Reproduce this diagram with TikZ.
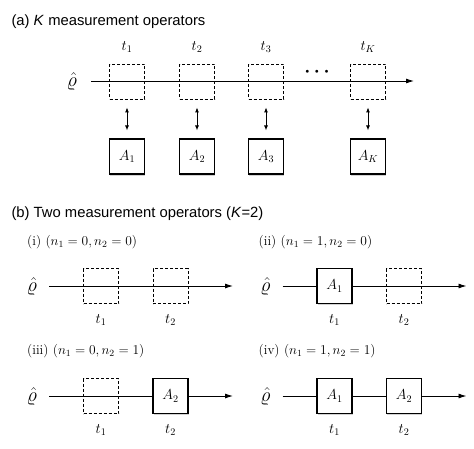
\RequirePackage{fix-cm}
\documentclass[tikz,border=0pt]{standalone}
\usepackage{fontspec}
\setsansfont{Liberation Sans}
\usetikzlibrary{arrows.meta,shadows}

\tikzset{
  slot/.style={draw,dash pattern=on 3pt off 2pt,line width=0.8pt,minimum size=35pt,inner sep=0pt},
  opbox/.style={draw,fill=white,line width=1.1pt,minimum size=35pt,inner sep=0pt,
    drop shadow={opacity=0.35,shadow xshift=0.6pt,shadow yshift=-1.6pt}},
  axis/.style={line width=0.9pt,-{Latex[length=8pt,width=5pt]}},
  dbl/.style={line width=0.9pt,{Latex[length=5pt,width=4pt]}-{Latex[length=5pt,width=4pt]}},
  title/.style={anchor=base west,font=\sffamily\fontsize{14.8}{18}\selectfont},
  sub/.style={anchor=base west,inner sep=0pt,font=\fontsize{13.5}{16}\selectfont},
  lbl/.style={font=\fontsize{14.5}{17}\selectfont},
  rho/.style={font=\fontsize{20}{22}\selectfont},
}

\begin{document}
\begin{tikzpicture}[x=1pt,y=-1pt]
  \useasboundingbox (0,0) rectangle (474,448);

  % (a) K operators
  \node[title] (ta) at (8,25) {(a) \textit{K} measurement operators};
  \node[rho] (qa) at (72,81) {$\hat{\varrho}$};
  \coordinate (sa) at (91,81);
  \coordinate (ea) at (414,81);
  \draw[axis] (sa) -- (ea);
  \foreach \x/\i in {127/1,197/2,266/3,368/K} {
    \node[slot] (d\i) at (\x,81.5) {};
    \node[lbl] (t\i) at (\x,47) {$t_{\i}$};
    \node[opbox,lbl] (a\i) at (\x,156.5) {$A_{\i}$};
    \draw[dbl,shorten >=8pt,shorten <=8pt] (d\i) -- (a\i);
  }
  \node[font=\boldmath\fontsize{19}{20}\selectfont] (dots) at (317,72) {$\cdots$};

  % (b) K=2
  \node[title] (tb) at (8,217) {(b) Two measurement operators (\textit{K}=2)};

  \begin{scope}[shift={(0,0)}]
    \node[sub] (li) at (27,245) {(i) $(n_1=0,n_2=0)$};
    \node[rho] (qi) at (32,286) {$\hat{\varrho}$};
    \coordinate (si) at (49,286);
    \coordinate (ei) at (233,286);
    \draw[axis] (si) -- (ei);
    \node[slot] (i1) at (101,286) {};
    \node[slot] (i2) at (170.5,286) {};
    \node[lbl] at (101,320) {$t_1$};
    \node[lbl] at (170.5,320) {$t_2$};
  \end{scope}

  \begin{scope}[shift={(233.5,0)}]
    \node[sub] (lii) at (25,245) {(ii) $(n_1=1,n_2=0)$};
    \node[rho] (qii) at (32,286) {$\hat{\varrho}$};
    \coordinate (sii) at (49,286);
    \coordinate (eii) at (233,286);
    \draw[axis] (sii) -- (eii);
    \node[opbox,lbl] (ii1) at (101,286) {$A_1$};
    \node[slot] (ii2) at (170.5,286) {};
    \node[lbl] at (101,320) {$t_1$};
    \node[lbl] at (170.5,320) {$t_2$};
  \end{scope}

  \begin{scope}[shift={(0,110)}]
    \node[sub] (liii) at (27,244) {(iii) $(n_1=0,n_2=1)$};
    \node[rho] (qiii) at (32,286) {$\hat{\varrho}$};
    \coordinate (siii) at (49,286);
    \coordinate (eiii) at (233,286);
    \draw[axis] (siii) -- (eiii);
    \node[slot] (iii1) at (101,286) {};
    \node[opbox,lbl] (iii2) at (170.5,286) {$A_2$};
    \node[lbl] at (101,320) {$t_1$};
    \node[lbl] at (170.5,320) {$t_2$};
  \end{scope}

  \begin{scope}[shift={(233.5,110)}]
    \node[sub] (liv) at (25,244) {(iv) $(n_1=1,n_2=1)$};
    \node[rho] (qiv) at (32,286) {$\hat{\varrho}$};
    \coordinate (siv) at (49,286);
    \coordinate (eiv) at (233,286);
    \draw[axis] (siv) -- (eiv);
    \node[opbox,lbl] (iv1) at (101,286) {$A_1$};
    \node[opbox,lbl] (iv2) at (170.5,286) {$A_2$};
    \node[lbl] at (101,320) {$t_1$};
    \node[lbl] at (170.5,320) {$t_2$};
  \end{scope}
\end{tikzpicture}
\end{document}
